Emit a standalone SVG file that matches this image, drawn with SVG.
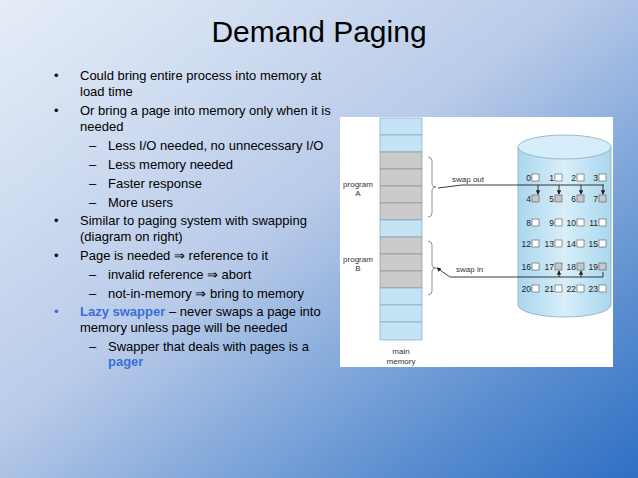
<svg xmlns="http://www.w3.org/2000/svg" width="638" height="478" viewBox="0 0 638 478">
<defs>
<linearGradient id="bg" x1="0" y1="0" x2="1" y2="1">
<stop offset="0" stop-color="#e6edf8"/><stop offset="0.45" stop-color="#b9cbe9"/><stop offset="0.8" stop-color="#5c8fd0"/><stop offset="1" stop-color="#2f6fc4"/>
</linearGradient>
<linearGradient id="cyl" x1="0" y1="0" x2="1" y2="0">
<stop offset="0" stop-color="#a9d7ee"/><stop offset="0.5" stop-color="#d8eef9"/><stop offset="1" stop-color="#a9d7ee"/>
</linearGradient>
<marker id="ah" viewBox="0 0 6 6" refX="5" refY="3" markerWidth="5" markerHeight="5" orient="auto"><path d="M0,0L6,3L0,6z" fill="#222"/></marker>
</defs>
<style>
.t{font-family:"Liberation Sans",Arial,sans-serif;font-size:13px;fill:#000}
.s{font-family:"Liberation Sans",Arial,sans-serif;font-size:8px;fill:#333}
.n{font-family:"Liberation Sans",Arial,sans-serif;font-size:8.5px;fill:#222}
.b{fill:#c4e4f6;stroke:#7a9db5;stroke-width:0.6}
.g{fill:#cbcbcb;stroke:#7a8a95;stroke-width:0.6}
.w{fill:#fff;stroke:#555;stroke-width:0.6}
.k{fill:#c8c8c8;stroke:#555;stroke-width:0.6}
.hl{fill:#3b6fd6;font-weight:bold}
</style>
<rect width="638" height="478" fill="url(#bg)"/>
<text x="319" y="42" text-anchor="middle" font-family="Liberation Sans,Arial,sans-serif" font-size="30" fill="#000">Demand Paging</text>
<g class="t">
<text x="54" y="80">•</text><text x="80" y="80">Could bring entire process into memory at</text><text x="80" y="96">load time</text>
<text x="54" y="115">•</text><text x="80" y="115">Or bring a page into memory only when it is</text><text x="80" y="131">needed</text>
<text x="89" y="150">–</text><text x="108" y="150">Less I/O needed, no unnecessary I/O</text>
<text x="89" y="169">–</text><text x="108" y="169">Less memory needed</text>
<text x="89" y="188">–</text><text x="108" y="188">Faster response</text>
<text x="89" y="207">–</text><text x="108" y="207">More users</text>
<text x="54" y="225">•</text><text x="80" y="225">Similar to paging system with swapping</text><text x="80" y="241">(diagram on right)</text>
<text x="54" y="260">•</text><text x="80" y="260">Page is needed ⇒ reference to it</text>
<text x="89" y="279">–</text><text x="108" y="279">invalid reference ⇒ abort</text>
<text x="89" y="298">–</text><text x="108" y="298">not-in-memory ⇒ bring to memory</text>
<text x="54" y="316" class="hl" style="font-weight:normal">•</text><text x="80" y="316"><tspan class="hl">Lazy swapper</tspan> – never swaps a page into</text><text x="80" y="332">memory unless page will be needed</text>
<text x="89" y="351">–</text><text x="108" y="351">Swapper that deals with pages is a</text><text x="108" y="366" class="hl">pager</text>
</g>
<g id="panel"><rect x="340" y="117" width="273" height="250" fill="#fff"/></g>
<g id="memory">
<rect class="b" x="380" y="118" width="42" height="17"/><rect class="b" x="380" y="135" width="42" height="17"/>
<rect class="g" x="380" y="152" width="42" height="17"/><rect class="g" x="380" y="169" width="42" height="17"/><rect class="g" x="380" y="186" width="42" height="17"/><rect class="g" x="380" y="203" width="42" height="17"/>
<rect class="b" x="380" y="220" width="42" height="17"/>
<rect class="g" x="380" y="237" width="42" height="17"/><rect class="g" x="380" y="254" width="42" height="17"/><rect class="g" x="380" y="271" width="42" height="17"/>
<rect class="b" x="380" y="288" width="42" height="17"/><rect class="b" x="380" y="305" width="42" height="17"/><rect class="b" x="380" y="322" width="42" height="18"/>
<text class="s" x="401" y="354" text-anchor="middle">main</text><text class="s" x="401" y="364" text-anchor="middle">memory</text>
</g>
<g id="progA"><text class="s" x="358" y="187" text-anchor="middle">program</text><text class="s" x="358" y="196" text-anchor="middle">A</text>
<path d="M428,157 q4,0 4,4 v23 q0,3 4,3 q-4,0 -4,3 v23 q0,4 -4,4" fill="none" stroke="#666" stroke-width="0.7"/></g>
<g id="progB"><text class="s" x="358" y="262" text-anchor="middle">program</text><text class="s" x="358" y="271" text-anchor="middle">B</text>
<path d="M428,241 q4,0 4,4 v20 q0,3 4,3 q-4,0 -4,3 v20 q0,4 -4,4" fill="none" stroke="#666" stroke-width="0.7"/></g>
<g id="disk">
<path d="M518,147 v158 a46.5,12 0 0 0 93,0 v-158" fill="url(#cyl)" stroke="#8aa9bf" stroke-width="0.8"/>
<ellipse cx="564.5" cy="147" rx="46.5" ry="12" fill="#d6eefa" stroke="#8aa9bf" stroke-width="0.8"/>
<g class="n">
<text x="531" y="181" text-anchor="end">0</text><text x="554" y="181" text-anchor="end">1</text><text x="576" y="181" text-anchor="end">2</text><text x="598" y="181" text-anchor="end">3</text>
<text x="531" y="202" text-anchor="end">4</text><text x="554" y="202" text-anchor="end">5</text><text x="576" y="202" text-anchor="end">6</text><text x="598" y="202" text-anchor="end">7</text>
<text x="531" y="226" text-anchor="end">8</text><text x="554" y="226" text-anchor="end">9</text><text x="576" y="226" text-anchor="end">10</text><text x="598" y="226" text-anchor="end">11</text>
<text x="531" y="247" text-anchor="end">12</text><text x="554" y="247" text-anchor="end">13</text><text x="576" y="247" text-anchor="end">14</text><text x="598" y="247" text-anchor="end">15</text>
<text x="531" y="270" text-anchor="end">16</text><text x="554" y="270" text-anchor="end">17</text><text x="576" y="270" text-anchor="end">18</text><text x="598" y="270" text-anchor="end">19</text>
<text x="531" y="292" text-anchor="end">20</text><text x="554" y="292" text-anchor="end">21</text><text x="576" y="292" text-anchor="end">22</text><text x="598" y="292" text-anchor="end">23</text>
</g>
<g>
<rect class="w" x="532" y="174" width="7" height="7"/><rect class="w" x="555" y="174" width="7" height="7"/><rect class="w" x="577" y="174" width="7" height="7"/><rect class="w" x="599" y="174" width="7" height="7"/>
<rect class="k" x="532" y="195" width="7" height="7"/><rect class="k" x="555" y="195" width="7" height="7"/><rect class="k" x="577" y="195" width="7" height="7"/><rect class="k" x="599" y="195" width="7" height="7"/>
<rect class="w" x="532" y="219" width="7" height="7"/><rect class="w" x="555" y="219" width="7" height="7"/><rect class="w" x="577" y="219" width="7" height="7"/><rect class="w" x="599" y="219" width="7" height="7"/>
<rect class="w" x="532" y="240" width="7" height="7"/><rect class="w" x="555" y="240" width="7" height="7"/><rect class="w" x="577" y="240" width="7" height="7"/><rect class="w" x="599" y="240" width="7" height="7"/>
<rect class="w" x="532" y="263" width="7" height="7"/><rect class="k" x="555" y="263" width="7" height="7"/><rect class="k" x="577" y="263" width="7" height="7"/><rect class="k" x="599" y="263" width="7" height="7"/>
<rect class="w" x="532" y="285" width="7" height="7"/><rect class="w" x="555" y="285" width="7" height="7"/><rect class="w" x="577" y="285" width="7" height="7"/><rect class="w" x="599" y="285" width="7" height="7"/>
</g>
</g>
<g id="connectors" fill="none" stroke="#222" stroke-width="0.9">
<text class="s" x="452" y="182" stroke="none">swap out</text>
<path d="M438,188 L462,185 H604"/>
<path d="M538,185 v9" marker-end="url(#ah)"/><path d="M559,185 v9" marker-end="url(#ah)"/><path d="M581,185 v9" marker-end="url(#ah)"/><path d="M603,185 v9" marker-end="url(#ah)"/>
<text class="s" x="456" y="272" stroke="none">swap in</text>
<path d="M603,272 V277 H450 L437,268" marker-end="url(#ah)"/>
<path d="M559,277 v-6" marker-end="url(#ah)"/><path d="M581,277 v-6" marker-end="url(#ah)"/>
</g>
</svg>
